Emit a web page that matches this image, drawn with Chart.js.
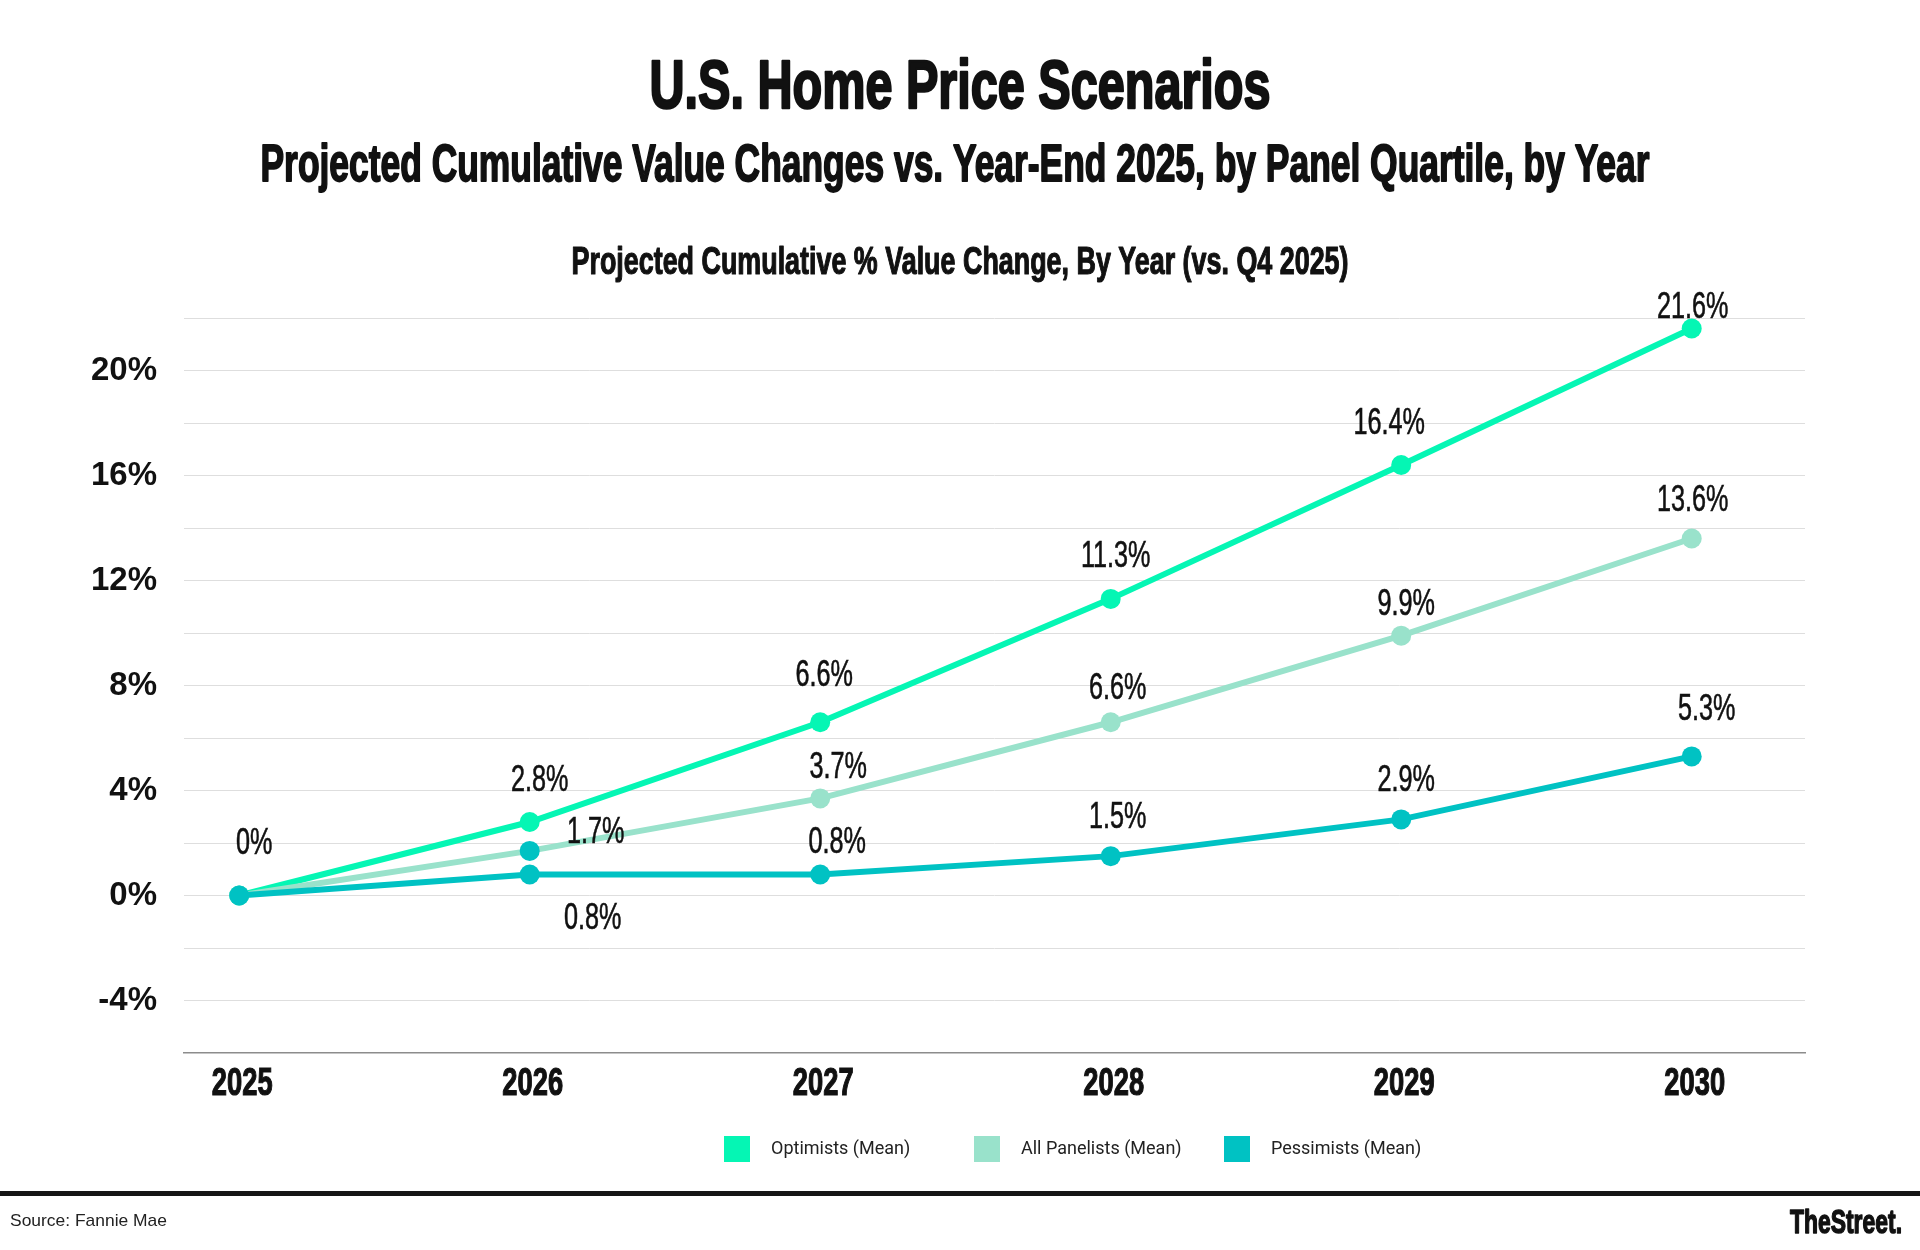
<!DOCTYPE html>
<html>
<head>
<meta charset="utf-8">
<script src="https://cdn.jsdelivr.net/npm/chart.js@4.4.1/dist/chart.umd.min.js"></script>
<style>
html, body { margin: 0; padding: 0; background: #fff; }
canvas { display: block; }
</style>
</head>
<body>
<canvas id="c" width="1920" height="1250"></canvas>
<script>
// ---- data ----
const years = [2025, 2026, 2027, 2028, 2029, 2030];
const optimists = [0, 2.8, 6.6, 11.3, 16.4, 21.6];
const allPanelists = [0, 1.7, 3.7, 6.6, 9.9, 13.6];
const pessimists = [0, 0.8, 0.8, 1.5, 2.9, 5.3];
const seriesNames = ['Optimists (Mean)', 'All Panelists (Mean)', 'Pessimists (Mean)'];
const yTickLabels = [-4, 0, 4, 8, 12, 16, 20];
const titleText = 'U.S. Home Price Scenarios';
const subtitleText = 'Projected Cumulative Value Changes vs. Year-End 2025, by Panel Quartile, by Year';
const chartTitleText = 'Projected Cumulative % Value Change, By Year (vs. Q4 2025)';
const sourceText = 'Source: Fannie Mae';
const brandText = 'TheStreet.';

// ---- styles ----
const COL_OPT = '#05F6B4';
const COL_ALL = '#99E2CB';
const COL_PES = '#00C2C3';
const INK = '#111111';

function fitText(ctx, text, x, y, width, font, align, color, stroke) {
  ctx.save();
  ctx.font = font;
  const w = ctx.measureText(text).width;
  const sx = width / w;
  let left = align === 'center' ? x - width / 2 : (align === 'right' ? x - width : x);
  ctx.translate(left, y);
  ctx.scale(sx, 1);
  ctx.textAlign = 'left';
  ctx.textBaseline = 'alphabetic';
  ctx.fillStyle = color;
  ctx.fillText(text, 0, 0);
  if (stroke) {
    ctx.lineWidth = stroke;
    ctx.strokeStyle = color;
    ctx.lineJoin = 'round';
    ctx.strokeText(text, 0, 0);
  }
  ctx.restore();
}

const fmt = v => v === 0 ? '0%' : v.toFixed(1) + '%';

const headerFooterPlugin = {
  id: 'headerFooter',
  afterDraw(chart) {
    const ctx = chart.ctx;
    fitText(ctx, titleText, 960, 108, 621, 'bold 68px "Liberation Sans", sans-serif', 'center', INK, 2.5);
    fitText(ctx, subtitleText, 955, 181, 1389, 'bold 51px "Liberation Sans", sans-serif', 'center', INK, 1.8);
    fitText(ctx, chartTitleText, 960, 274, 777, 'bold 38px "Liberation Sans", sans-serif', 'center', INK, 1.2);
    ctx.save();
    ctx.fillStyle = '#151515';
    ctx.fillRect(0, 1191, 1920, 5);
    ctx.restore();
    fitText(ctx, sourceText, 10, 1226, 157, '17px "Liberation Sans", sans-serif', 'left', '#222', 0);
    fitText(ctx, brandText, 1902, 1233, 112, 'bold 34px "Liberation Sans", sans-serif', 'right', INK, 1.5);
  }
};

// condensed x-axis tick labels, placed through the x scale
const xLabelPlugin = {
  id: 'xLabels',
  afterDraw(chart) {
    const ctx = chart.ctx;
    const sx = chart.scales.x;
    sx.ticks.forEach(t => {
      const px = sx.getPixelForValue(t.value);
      const txt = String(t.value);
      ctx.save();
      ctx.font = 'bold 39px "Liberation Sans", sans-serif';
      ctx.translate(px + 3, sx.top + 42);
      ctx.scale(0.7, 1);
      ctx.textAlign = 'center';
      ctx.textBaseline = 'alphabetic';
      ctx.fillStyle = INK;
      ctx.fillText(txt, 0, 0);
      ctx.lineWidth = 1.2;
      ctx.strokeStyle = INK;
      ctx.strokeText(txt, 0, 0);
      ctx.restore();
    });
  }
};

const legendPlugin = {
  id: 'slotLegend',
  afterDraw(chart) {
    const ctx = chart.ctx;
    ctx.save();
    chart.data.datasets.forEach((ds, i) => {
      const x0 = 724 + i * 250;
      ctx.fillStyle = ds.borderColor;
      ctx.fillRect(x0, 1136, 26, 26);
      ctx.fillStyle = '#222';
      ctx.font = '18px Roboto, "Liberation Sans", sans-serif';
      ctx.textAlign = 'left';
      ctx.textBaseline = 'middle';
      ctx.fillText(ds.label, x0 + 47, 1149);
    });
    ctx.restore();
  }
};

const labelPlugin = {
  id: 'pointLabels',
  afterDatasetsDraw(chart, args, opts) {
    const ctx = chart.ctx;
    ctx.save();
    ctx.fillStyle = INK;
    ctx.strokeStyle = INK;
    ctx.lineWidth = 0.6;
    ctx.font = '36px "Liberation Sans", sans-serif';
    ctx.textAlign = 'center';
    ctx.textBaseline = 'middle';
    chart.data.datasets.forEach((ds, di) => {
      const meta = chart.getDatasetMeta(di);
      meta.data.forEach((pt, j) => {
        const v = ds.data[j].y;
        if (j === 0 && di !== opts.zeroOwner) return;
        const off = (opts.offsets[di] && opts.offsets[di][j]) || opts.defaultOffset;
        ctx.save();
        ctx.translate(pt.x + off[0], pt.y + off[1] + 2);
        ctx.scale(0.7, 1);
        ctx.fillText(fmt(v), 0, 0);
        ctx.strokeText(fmt(v), 0, 0);
        ctx.restore();
      });
    });
    ctx.restore();
  }
};

const toPoints = vals => years.map((yr, i) => ({ x: yr, y: vals[i] }));

new Chart(document.getElementById('c'), {
  type: 'line',
  data: {
    datasets: [
      {
        label: seriesNames[0], data: toPoints(optimists),
        borderColor: COL_OPT, backgroundColor: COL_OPT, pointBackgroundColor: COL_OPT,
        borderWidth: 6, pointRadius: 10, pointHoverRadius: 10, pointBorderWidth: 0, order: 3
      },
      {
        label: seriesNames[1], data: toPoints(allPanelists),
        borderColor: COL_ALL, backgroundColor: COL_ALL,
        pointBackgroundColor: years.map((_, i) => i === 1 ? COL_PES : COL_ALL),
        borderWidth: 6, pointRadius: 10, pointHoverRadius: 10, pointBorderWidth: 0, order: 2
      },
      {
        label: seriesNames[2], data: toPoints(pessimists),
        borderColor: COL_PES, backgroundColor: COL_PES, pointBackgroundColor: COL_PES,
        borderWidth: 6, pointRadius: 10, pointHoverRadius: 10, pointBorderWidth: 0, order: 1
      }
    ]
  },
  options: {
    responsive: false,
    animation: false,
    devicePixelRatio: 1,
    layout: { padding: { top: 318, left: 64, right: 115, bottom: 142 } },
    plugins: {
      legend: { display: false },
      tooltip: { enabled: false },
      title: { display: false },
      pointLabels: {
        zeroOwner: 2,
        defaultOffset: [6, -40],
        offsets: {
          0: { 1: [10, -43], 2: [4, -48], 3: [5, -44], 4: [-12, -43], 5: [1, -22] },
          1: { 1: [66, -20], 2: [18, -32], 3: [7, -35], 4: [5, -33], 5: [1, -39] },
          2: { 0: [15, -53], 1: [63, 43], 2: [17, -33], 3: [7, -40], 4: [5, -40], 5: [15, -48] }
        }
      }
    },
    scales: {
      x: {
        type: 'linear',
        min: 2024.81,
        max: 2030.39,
        afterBuildTicks: s => { s.ticks = years.map(v => ({ value: v })); },
        afterFit: s => { s.height = 55; },
        grid: { display: false, drawTicks: false },
        border: { display: true, color: '#8c8c8c', width: 1.5 },
        ticks: {
          padding: 8, color: 'rgba(0,0,0,0)', autoSkip: false, maxRotation: 0,
          font: { family: '"Liberation Sans", sans-serif', size: 30, weight: 'bold' },
          callback: v => String(v)
        }
      },
      y: {
        min: -6,
        max: 22,
        afterFit: s => { s.width = 120; },
        grid: {
          drawTicks: false, lineWidth: 1,
          color: c => c.tick && c.tick.value === -6 ? 'rgba(0,0,0,0)' : '#dedede'
        },
        border: { display: false },
        ticks: {
          stepSize: 2, padding: 27, color: INK,
          font: { family: '"Liberation Sans", sans-serif', size: 33, weight: 'bold' },
          callback: v => yTickLabels.includes(v) ? v + '%' : ''
        }
      }
    }
  },
  plugins: [headerFooterPlugin, xLabelPlugin, legendPlugin, labelPlugin]
});
</script>
</body>
</html>
